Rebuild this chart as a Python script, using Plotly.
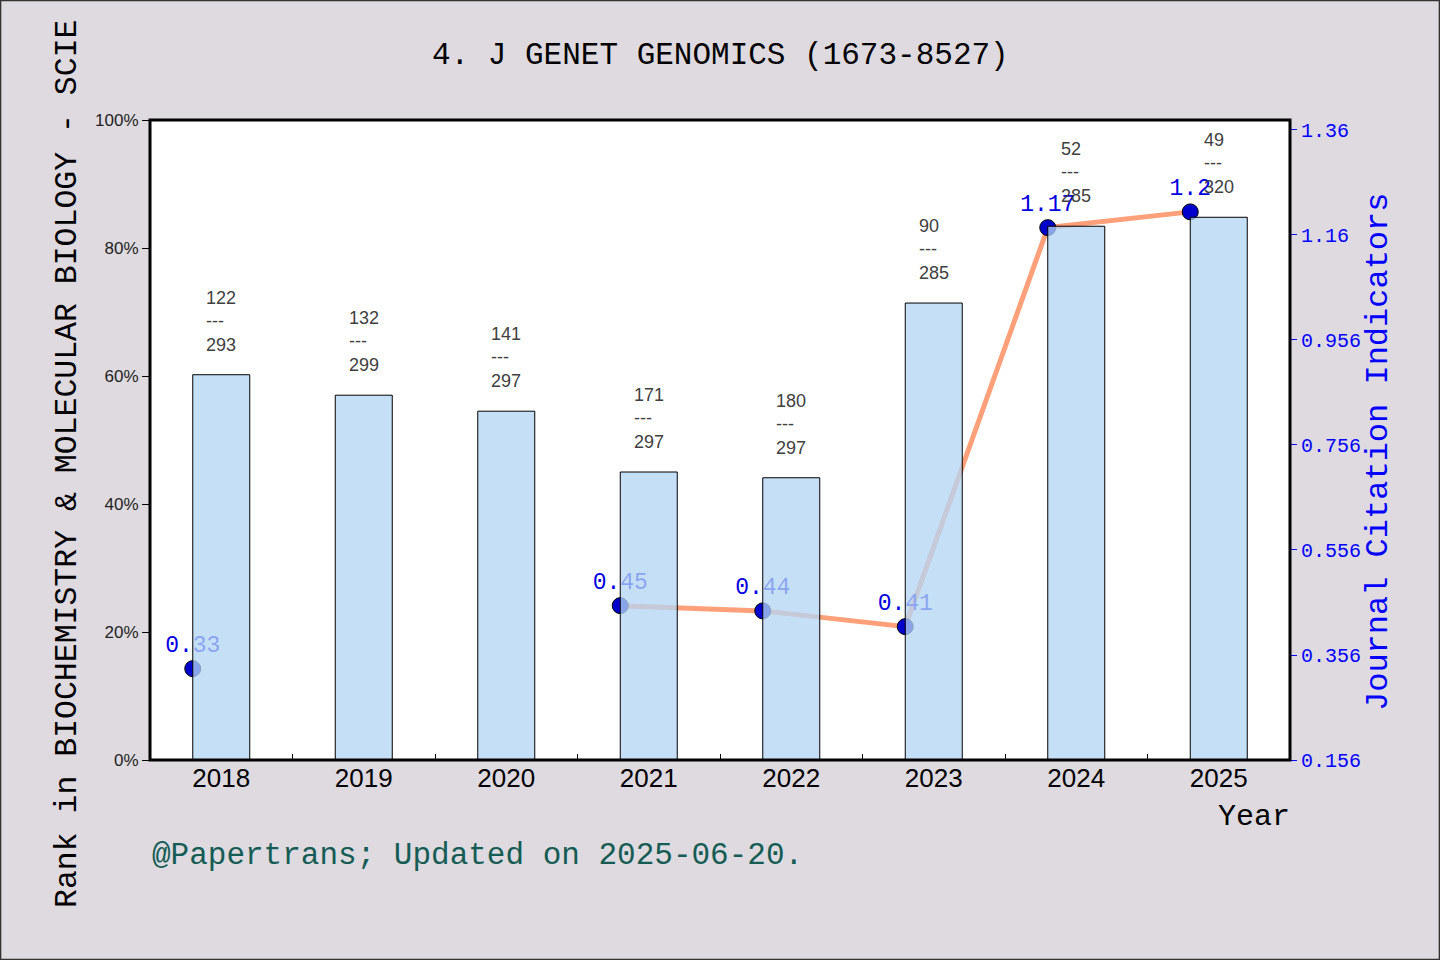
import plotly.graph_objects as go

years = ["2018", "2019", "2020", "2021", "2022", "2023", "2024", "2025"]
rank_pct = [60.2, 57.0, 54.5, 45.0, 44.1, 71.4, 83.4, 84.8]
rank = [122, 132, 141, 171, 180, 90, 52, 49]
total = [293, 299, 297, 297, 297, 285, 285, 320]
jci = [0.33, None, None, 0.45, 0.44, 0.41, 1.17, 1.2]
jci_ticks = [0.156, 0.356, 0.556, 0.756, 0.956, 1.156, 1.356]
jci_ticktext = ["0.156", "0.356", "0.556", "0.756", "0.956", "1.16", "1.36"]
pct_ticks = [0, 20, 40, 60, 80, 100]

MONO = "Liberation Mono"
SANS = "Liberation Sans"
BG = "#DEDAE0"

xs = list(range(len(years)))
# the JCI points sit on the left edge of each bar
x_line = [x - 0.2 for x in xs]

fig = go.Figure()

fig.add_trace(go.Scatter(
    x=x_line, y=jci, yaxis="y", mode="lines+markers+text",
    line=dict(color="#FFA07A", width=5),
    marker=dict(size=16, color="#0000CD", line=dict(color="black", width=1)),
    text=[f"{v:g}" if v is not None else "" for v in jci],
    textposition="top center",
    textfont=dict(family=MONO, size=23, color="#0000E0"),
    connectgaps=False, showlegend=False,
))

fig.add_trace(go.Bar(
    x=xs, y=rank_pct, yaxis="y2", width=0.4,
    marker=dict(color="rgba(180,214,244,0.77)", line=dict(color="black", width=1)),
    showlegend=False,
))

annotations = []
for x, p, r, t in zip(xs, rank_pct, rank, total):
    annotations.append(dict(
        x=x, y=p, xref="x", yref="y2", yanchor="bottom", yshift=18,
        text=f"{r}<br>---<br>{t}", showarrow=False, align="left",
        font=dict(family=SANS, size=18, color="#404040"),
    ))

# free text, positions in page pixels (centre of the text)
labels = [
    dict(text="4. J GENET GENOMICS (1673-8527)", x=720, y=56, angle=0,
         font=dict(family=MONO, size=31, color="black")),
    dict(text="Rank in BIOCHEMISTRY & MOLECULAR BIOLOGY - SCIE", x=67, y=464, angle=-90,
         font=dict(family=MONO, size=31.5, color="black")),
    dict(text="Journal Citation Indicators", x=1378, y=452, angle=-90,
         font=dict(family=MONO, size=32, color="#0000FF")),
    dict(text="Year", x=1254, y=817, angle=0,
         font=dict(family=MONO, size=30, color="black")),
]

L, R, T, B, W, H = 150, 150, 120, 200, 1440, 960
pw, ph = W - L - R, H - T - B
for lab in labels:
    annotations.append(dict(
        text=lab["text"], x=(lab["x"] - L) / pw, y=(H - B - lab["y"]) / ph,
        xref="paper", yref="paper", xanchor="center", yanchor="middle",
        textangle=lab["angle"], showarrow=False, font=lab["font"],
    ))
annotations.append(dict(
    text="@Papertrans; Updated on 2025-06-20.", x=0, y=(H - B - 855) / ph,
    xref="paper", yref="paper", xanchor="left", yanchor="middle", showarrow=False,
    font=dict(family=MONO, size=31, color="#145C54"),
))

fig.update_layout(
    width=W, height=H,
    margin=dict(l=L, r=R, t=T, b=B),
    paper_bgcolor=BG, plot_bgcolor="white",
    annotations=annotations,
    xaxis=dict(
        range=[-0.5, 7.5], tickvals=xs, ticktext=years, ticks="",
        tickfont=dict(family=SANS, size=26, color="black"),
        showgrid=False, zeroline=False,
        minor=dict(tick0=0.5, dtick=1, ticks="inside", ticklen=6, tickcolor="black", showgrid=False),
    ),
    yaxis=dict(
        side="right", range=[0.156, 1.375], tickvals=jci_ticks, ticktext=jci_ticktext,
        ticks="outside", ticklen=6, tickcolor="#0000FF",
        tickfont=dict(family=MONO, size=20, color="#0000FF"),
        showgrid=False, zeroline=False,
    ),
    yaxis2=dict(
        overlaying="y", side="left", range=[0, 100], tickvals=pct_ticks,
        ticktext=[f"{v}%" for v in pct_ticks], ticks="outside", ticklen=7, tickcolor="black",
        tickfont=dict(family=SANS, size=17, color="#222222"),
        showgrid=False, zeroline=False,
    ),
    shapes=[
        dict(type="rect", xref="paper", yref="paper", x0=0, x1=1, y0=0, y1=1,
             line=dict(color="black", width=3), layer="above"),
        dict(type="rect", xref="paper", yref="paper",
             x0=-L / pw + 0.0005, x1=1 + R / pw - 0.0005, y0=-B / ph + 0.0008, y1=1 + T / ph - 0.0008,
             line=dict(color="#333333", width=1.5), layer="below"),
    ],
)

fig.write_html("out.html", config={"displayModeBar": False},
               post_script="document.body.style.margin='0';")
